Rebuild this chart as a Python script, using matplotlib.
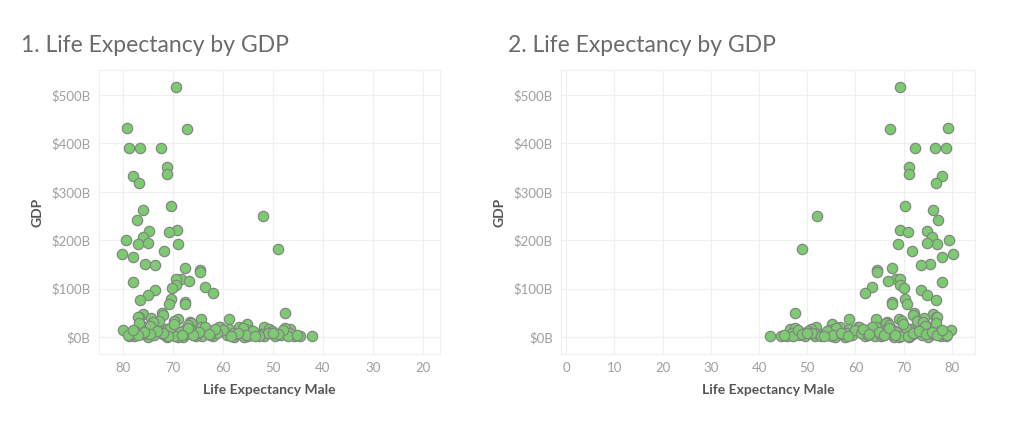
import numpy as np
import matplotlib.pyplot as plt
from matplotlib.ticker import FuncFormatter

plt.rcParams['font.family'] = ['Lato', 'DejaVu Sans']

# Life expectancy (male, years) and GDP (billions USD), one entry per country
life_exp_male = [
    69.3, 79.2, 67.1, 78.8, 76.5, 72.3, 71.2, 71.2, 77.9, 76.8,
    70.3, 52.0, 76.0, 77.2, 74.8, 69.2, 70.8, 79.3, 75.9, 77.0,
    74.9, 68.9, 80.2, 48.9, 71.8, 77.9, 75.5, 73.5, 67.5, 64.5,
    64.5, 68.3, 69.3, 66.7, 77.9, 69.3, 63.5, 70.1, 62.0, 73.5,
    74.9, 70.3, 76.6, 67.5, 67.5, 70.7, 47.5, 72.1, 76.0, 58.7,
    64.3, 69.0, 74.3, 76.8, 69.7, 66.5, 55.1, 60.5, 51.8, 79.9,
    42.2, 44.5, 45.7, 47.2, 46.5, 47.5, 49.5, 50.7, 51.7, 52.3,
    53.9, 55.7, 56.5, 56.7, 57.8, 58.7, 59.9, 60.7, 61.9, 63.0,
    64.1, 64.3, 65.3, 66.3, 66.5, 67.8, 68.0, 69.0, 70.0, 71.1,
    71.3, 72.0, 73.0, 73.3, 75.0, 75.0, 76.0, 76.3, 77.7, 78.8,
    77.0, 72.0, 72.7, 74.0, 48.3, 46.8, 50.2, 53.0, 54.5, 55.0,
    56.0, 57.3, 58.0, 59.2, 60.0, 61.2, 62.5, 63.5, 65.0, 65.8,
    66.9, 67.3, 68.5, 69.5, 70.5, 71.6, 72.5, 73.8, 74.5, 75.5,
    76.7, 77.5, 78.3, 79.0, 47.0, 48.0, 49.0, 51.0, 52.8, 54.0,
    55.4, 57.0, 58.4, 61.5, 62.8, 64.8, 66.0, 67.0, 68.2, 69.8,
    70.9, 71.9, 73.2, 74.6, 75.8, 76.9, 78.0, 45.2, 50.0, 53.5,
]
gdp_billion = [
    516, 433, 430, 390, 391, 390, 351, 336, 332, 319,
    271, 251, 263, 242, 220, 221, 218, 201, 206, 192,
    194, 192, 172, 181, 178, 165, 150, 148, 143, 139,
    135, 120, 119, 115, 113, 108, 104, 101, 91, 97,
    86, 79, 77, 72, 69, 68, 50, 50, 48, 37,
    37, 37, 40, 41, 34, 31, 27, 21, 21, 14,
    2, 2, 2, 10, 17, 19, 2, 16, 2, 7,
    7, 1, 10, 21, 1, 17, 12, 21, 3, 12,
    2, 21, 3, 28, 17, 14, 1, 1, 7, 1,
    17, 7, 10, 21, 1, 17, 7, 24, 3, 2,
    41, 45, 34, 31, 4, 8, 12, 5, 14, 3,
    18, 6, 9, 4, 15, 8, 5, 20, 9, 4,
    25, 6, 11, 3, 19, 5, 13, 4, 22, 9,
    30, 12, 6, 5, 3, 14, 6, 9, 2, 12,
    4, 8, 3, 16, 7, 10, 5, 18, 4, 26,
    3, 9, 12, 6, 10, 4, 15, 5, 8, 3,
]

x_ticks_left = [80, 70, 60, 50, 40, 30, 20]
x_ticks_right = [0, 10, 20, 30, 40, 50, 60, 70, 80]
y_ticks = [0, 100, 200, 300, 400, 500]

fig = plt.figure(figsize=(10.32, 4.28), dpi=100)
ax1 = fig.add_axes([0.0959, 0.173, 0.3304, 0.6636])
ax2 = fig.add_axes([0.5436, 0.173, 0.4012, 0.6636])

grid_c = '#f0f0f0'
tick_c = '#a0a0a0'
label_c = '#555555'


def style(ax, xlim, xticks, title, title_x):
    ax.scatter(life_exp_male, gdp_billion, s=55, color='#7dcb70',
               edgecolors='#808780', linewidths=0.9, zorder=3)
    ax.set_xlim(*xlim)
    ax.set_ylim(-35, 552)
    ax.set_xticks(xticks)
    ax.set_yticks(y_ticks)
    ax.yaxis.set_major_formatter(FuncFormatter(lambda v, p: f'${int(v)}B'))
    ax.grid(True, color=grid_c, linewidth=0.9, zorder=0)
    ax.axhline(0, color='#d0d0d0', linestyle=(0, (1, 1.5)), linewidth=0.8, zorder=1)
    for s in ax.spines.values():
        s.set_color(grid_c)
        s.set_linewidth(0.9)
    ax.tick_params(length=0, colors=tick_c, labelsize=9.5, pad=6)
    ax.set_xlabel('Life Expectancy Male', fontsize=10, fontweight='bold',
                  color=label_c, labelpad=7)
    ax.set_ylabel('GDP', fontsize=10, fontweight='bold', color=label_c, labelpad=6)
    # title placed in figure pixels
    fig.text(title_x / 1032, 1 - 46 / 428, title, fontsize=16.5, color='#6b6b6b',
             va='center', ha='left')


style(ax1, (84.8, 16.6), x_ticks_left, '1. Life Expectancy by GDP', 21)
style(ax2, (-1.1, 84.8), x_ticks_right, '2. Life Expectancy by GDP', 508)

fig.savefig('out.png', dpi=100)
